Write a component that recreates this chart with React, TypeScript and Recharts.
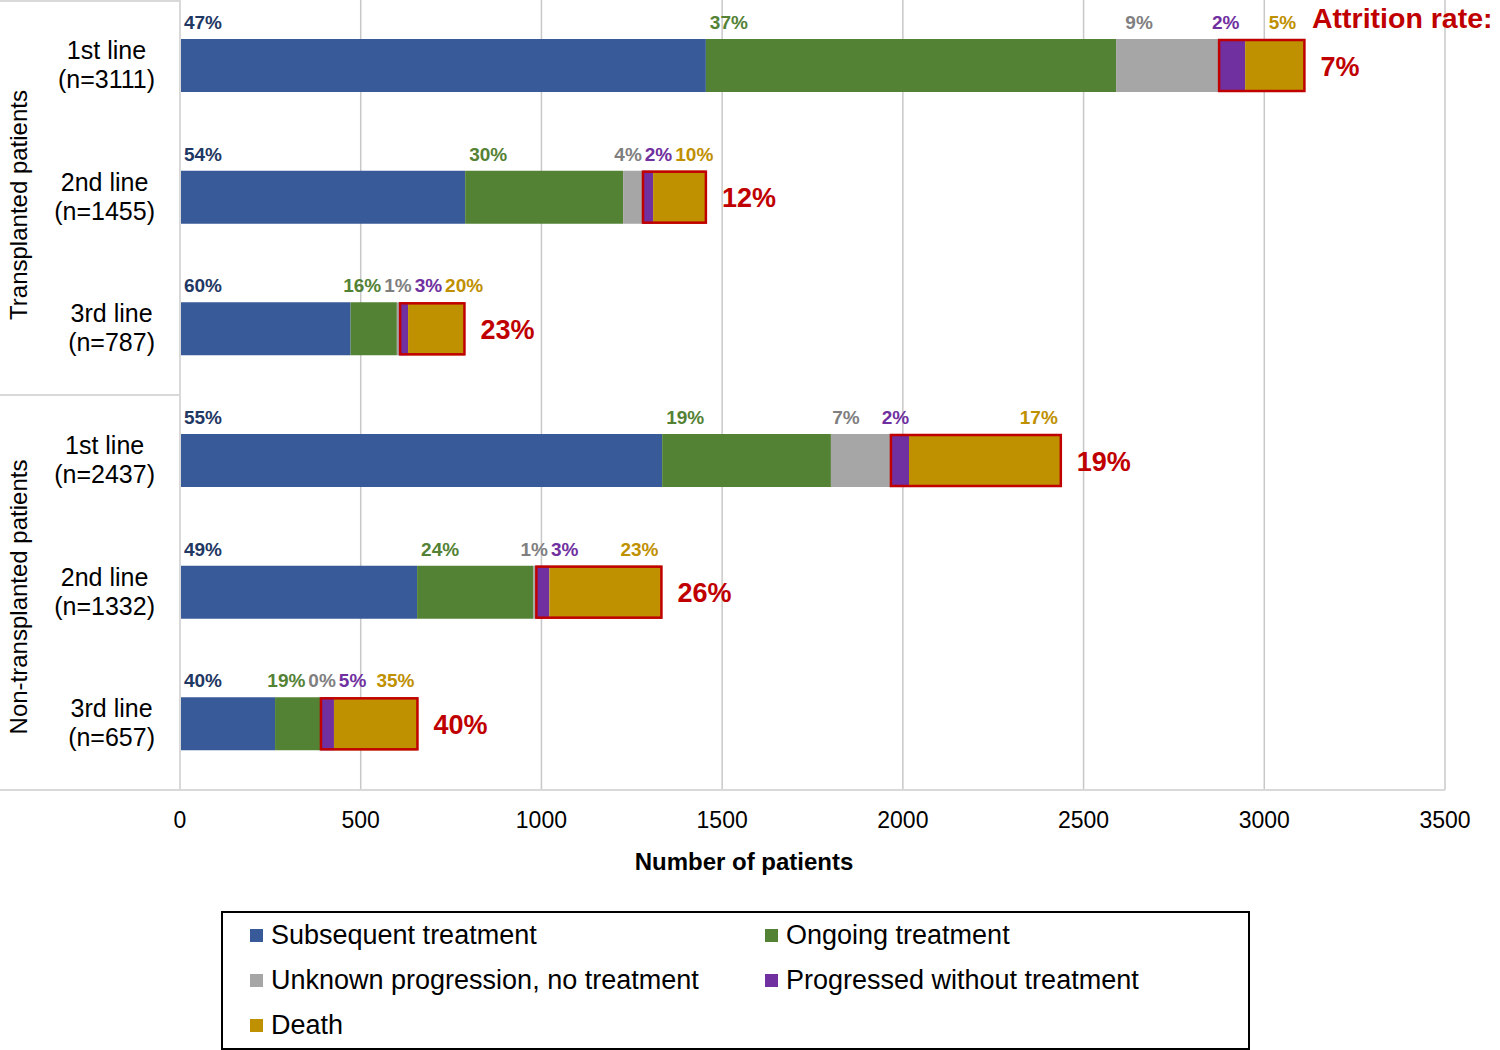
import { BarChart, Bar, XAxis, YAxis, CartesianGrid, Legend, Customized } from "recharts";

// categories (top to bottom)
const lineLabels = ["1st line", "2nd line", "3rd line", "1st line", "2nd line", "3rd line"];
const patientCounts = [3111, 1455, 787, 2437, 1332, 657];
const groupNames = ["Transplanted patients", "Non-transplanted patients"];

// patient numbers per outcome
const subsequent = [1455, 789, 472, 1334, 656, 263];
const ongoing = [1135, 437, 128, 467, 322, 125];
const unknown = [285, 55, 9, 166, 8, 2];
const progressed = [72, 28, 22, 50, 36, 36];
const death = [164, 146, 156, 420, 310, 231];

// printed percentages
const subsequentPct = [47, 54, 60, 55, 49, 40];
const ongoingPct = [37, 30, 16, 19, 24, 19];
const unknownPct = [9, 4, 1, 7, 1, 0];
const progressedPct = [2, 2, 3, 2, 3, 5];
const deathPct = [5, 10, 20, 17, 23, 35];

const xTicks = [0, 500, 1000, 1500, 2000, 2500, 3000, 3500];

const seriesKeys = ["subsequent", "ongoing", "unknown", "progressed", "death"];
const seriesNames = [
  "Subsequent treatment",
  "Ongoing treatment",
  "Unknown progression, no treatment",
  "Progressed without treatment",
  "Death",
];
const barColors = ["#385A98", "#548235", "#A6A6A6", "#7030A0", "#BF9000"];
const pctColors = ["#1F3864", "#548235", "#7F7F7F", "#7030A0", "#BF9000"];
const RED = "#C00000";
const FONT = '"Liberation Sans", Arial, sans-serif';

const rows = lineLabels.map((line, i) => ({
  label: `${line}|${patientCounts[i]}`,
  subsequent: subsequent[i],
  ongoing: ongoing[i],
  unknown: unknown[i],
  progressed: progressed[i],
  death: death[i],
  pcts: [subsequentPct[i], ongoingPct[i], unknownPct[i], progressedPct[i], deathPct[i]],
}));

let ctx: CanvasRenderingContext2D | null = null;
function textWidth(s: string, font: string) {
  if (!ctx) ctx = document.createElement("canvas").getContext("2d");
  if (!ctx) return s.length * 10;
  ctx.font = font;
  return ctx.measureText(s).width;
}

// two-line category label, block right aligned, lines centred on each other
const CategoryTick = ({ y, payload }: any) => {
  const [line, n] = String(payload.value).split("|");
  const second = `(n=${n})`;
  const font = `25px ${FONT}`;
  const w = Math.max(textWidth(line, font), textWidth(second, font));
  const cx = 155 - w / 2;
  return (
    <g>
      <text x={cx} y={y - 7} textAnchor="middle" fontSize={25} fill="#000">
        {line}
      </text>
      <text x={cx} y={y + 22} textAnchor="middle" fontSize={25} fill="#000">
        {second}
      </text>
    </g>
  );
};

// death segment + percent labels of the whole row + attrition box
const RowShape = (props: any) => {
  const { x, y, width, height, fill, payload } = props;
  const vals = seriesKeys.map((k) => payload[k] as number);
  const unit = width / payload.death;
  const before = vals.slice(0, 4).reduce((a, b) => a + b, 0);
  const x0 = x - before * unit;

  let acc = 0;
  const segs = vals.map((v) => {
    const start = x0 + acc * unit;
    acc += v;
    return { start, w: v * unit, end: x0 + acc * unit };
  });

  const labelFont = `bold 19px ${FONT}`;
  let prevRight = -Infinity;
  const labels = segs.map((s, i) => {
    const txt = `${payload.pcts[i]}%`;
    const tw = textWidth(txt, labelFont);
    let c = i === 4 ? s.end - 22 : s.start + Math.min(s.w / 4, 23);
    c = Math.max(c, prevRight + 3 + tw / 2);
    prevRight = c + tw / 2;
    return (
      <text key={i} x={c} y={y - 10} textAnchor="middle" fontSize={19} fontWeight="bold" fill={pctColors[i]}>
        {txt}
      </text>
    );
  });

  const boxX = segs[3].start;
  const end = segs[4].end;
  const attrition = payload.pcts[3] + payload.pcts[4];

  return (
    <g>
      <rect x={x} y={y} width={width} height={height} fill={fill} />
      <rect x={boxX} y={y + 1} width={end - boxX} height={height - 2} fill="none" stroke={RED} strokeWidth={2.5} />
      {labels}
      <text x={end + 16} y={y + height / 2 + 10} fontSize={27} fontWeight="bold" fill={RED}>
        {attrition}%
      </text>
    </g>
  );
};

const Decorations = () => (
  <g>
    <line x1={0} y1={1} x2={180} y2={1} stroke="#D9D9D9" strokeWidth={2} />
    <line x1={0} y1={395} x2={180} y2={395} stroke="#D9D9D9" strokeWidth={2} />
    <line x1={0} y1={790} x2={180} y2={790} stroke="#D9D9D9" strokeWidth={2} />
    <text x={18} y={205} transform="rotate(-90 18 205)" textAnchor="middle" dominantBaseline="central" fontSize={24} fill="#000">
      {groupNames[0]}
    </text>
    <text x={18} y={597} transform="rotate(-90 18 597)" textAnchor="middle" dominantBaseline="central" fontSize={24} fill="#000">
      {groupNames[1]}
    </text>
    <text x={1312} y={28} fontSize={28.5} fontWeight="bold" fill={RED}>
      Attrition rate:
    </text>
    <text x={744} y={870} textAnchor="middle" fontSize={24} fontWeight="bold" fill="#000">
      Number of patients
    </text>
  </g>
);

const LegendBox = ({ payload }: any) => {
  const items = [...(payload || [])].sort(
    (a: any, b: any) => seriesNames.indexOf(a.value) - seriesNames.indexOf(b.value)
  );
  return (
    <div
      style={{
        boxSizing: "border-box",
        width: 1029,
        height: 139,
        border: "2px solid #000",
        paddingLeft: 27,
        display: "grid",
        gridTemplateColumns: "515px 1fr",
        fontFamily: FONT,
        fontSize: 27,
        color: "#000",
      }}
    >
      {items.map((entry: any) => (
        <div key={entry.value} style={{ display: "flex", alignItems: "center", height: 45, lineHeight: "45px", whiteSpace: "nowrap" }}>
          <span style={{ width: 13, height: 13, background: entry.color, marginRight: 8, display: "inline-block" }} />
          {entry.value}
        </div>
      ))}
    </div>
  );
};

export default function App() {
  return (
    <div style={{ position: "absolute", left: 0, top: 0, width: 1500, height: 1050, fontFamily: FONT, background: "#fff" }}>
      <BarChart
        layout="vertical"
        width={1500}
        height={1050}
        data={rows}
        barSize={53}
        margin={{ top: 0, right: 55, bottom: 190, left: 0 }}
      >
        <CartesianGrid horizontal={false} stroke="#C8C8C8" strokeWidth={1.5} />
        <XAxis
          type="number"
          domain={[0, 3500]}
          ticks={xTicks}
          height={70}
          tickLine={false}
          tickMargin={16}
          axisLine={{ stroke: "#D9D9D9", strokeWidth: 2 }}
          tick={{ fill: "#000", fontSize: 23 }}
        />
        <YAxis
          type="category"
          dataKey="label"
          width={180}
          tickLine={false}
          axisLine={{ stroke: "#D9D9D9", strokeWidth: 2 }}
          tick={<CategoryTick />}
        />
        {seriesKeys.map((k, i) => (
          <Bar
            key={k}
            dataKey={k}
            name={seriesNames[i]}
            stackId="a"
            fill={barColors[i]}
            isAnimationActive={false}
            shape={i === 4 ? (p: any) => <RowShape {...p} /> : undefined}
          />
        ))}
        <Legend
          layout="horizontal"
          verticalAlign="middle"
          align="center"
          wrapperStyle={{ left: 221, top: 911, width: 1029 }}
          content={<LegendBox />}
        />
        <Customized component={<Decorations />} />
      </BarChart>
    </div>
  );
}
